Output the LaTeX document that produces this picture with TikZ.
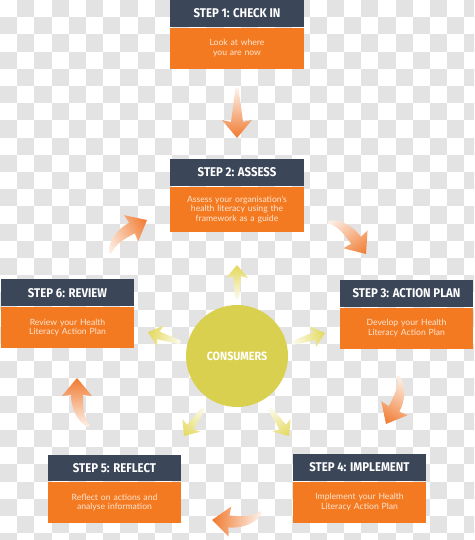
\documentclass[tikz,border=0pt]{standalone}
\usepackage{fontspec}
\setmainfont{Lato}
\newfontfamily\headfont[FakeStretch=0.9]{Fira Sans}
\usetikzlibrary{positioning}
\definecolor{slate}{HTML}{3B4759}
\definecolor{stepor}{HTML}{F47A21}
\definecolor{bodytxt}{HTML}{FDE6D3}
\definecolor{sunny}{HTML}{DAD04F}
\definecolor{ray}{HTML}{E3D85A}
\definecolor{glow}{HTML}{F07A30}
\begin{document}
\begin{tikzpicture}[x=0.02cm, y=0.02cm,
	head/.style={fill=slate, text=white, minimum width=2.68cm, minimum height=0.54cm, inner sep=0pt, font=\headfont\bfseries\fontsize{7.2}{8}\selectfont},
	body/.style={fill=stepor, text=bodytxt, minimum width=2.68cm, minimum height=0.82cm, inner sep=0pt, text width=2.5cm, align=center, font=\fontsize{4.9}{5.4}\selectfont},
	checker/.style={fill=black!11},
	swoop/.pic={\shade[left color=glow!10, right color=glow] (0,0) -- (-18,15) -- (-17,6) .. controls (-30,6) and (-44,0) .. (-49,-11) -- (-47,-13) .. controls (-40,-6) and (-28,-6) .. (-17,-6) -- (-18,-15) -- cycle;},
	drop/.pic={\shade[left color=glow!10, right color=glow] (0,0) -- (-18,15) -- (-16,6) -- (-50,1.5) -- (-50,-1.5) -- (-16,-6) -- (-18,-15) -- cycle;},
	ray/.pic={\shade[left color=ray!10, right color=ray] (0,0) -- (-13,11) -- (-11,4) -- (-34,2) -- (-34,-2) -- (-11,-4) -- (-13,-11) -- cycle;}]
	\useasboundingbox (0,0) rectangle (474,540);
	\fill[white] (0,0) rectangle (474,540);
	\begin{scope}
		\clip (0,0) rectangle (474,540);
		\foreach \j in {0,...,31} {
			\pgfmathtruncatemacro\off{mod(\j+1,2)}
			\foreach \i in {0,...,13}
				\fill[checker] ({(2*\i+\off)*17.2},{540-17.2*\j}) rectangle ++(17.2,-17.2);
		}
	\end{scope}
	% rays round the circle
	\coordinate (Y1) at (237,275);
	\coordinate (Y2) at (148,208);
	\coordinate (Y3) at (325,207);
	\coordinate (Y4) at (184,104);
	\coordinate (Y5) at (289,104);
	\pic[transform canvas={shift={(Y1)}, rotate=90}] {ray};
	\pic[transform canvas={shift={(Y2)}, rotate=162}] {ray};
	\pic[transform canvas={shift={(Y3)}, rotate=17}] {ray};
	\pic[transform canvas={shift={(Y4)}, rotate=-125}] {ray};
	\pic[transform canvas={shift={(Y5)}, rotate=-55}] {ray};
	\node[circle, fill=sunny, minimum size=2.04cm, text=white, font=\headfont\bfseries\fontsize{6.8}{7}\selectfont] (C) at (237,184) {CONSUMERS};
	% steps
	\node[head] (H1) at (237,526.5) {STEP 1: CHECK IN};
	\node[body, below=0pt of H1] (B1) {Look at where\\you are now};
	\node[head] (H2) at (237,367.5) {STEP 2: ASSESS};
	\node[body, below=0pt of H2, minimum height=0.9cm] (B2) {Assess your organisation's\\health literacy using the\\framework as a guide};
	\node[head] (H3) at (406.5,246.5) {STEP 3: ACTION PLAN};
	\node[body, below=0pt of H3] (B3) {Develop your Health\\Literacy Action Plan};
	\node[head] (H4) at (359.5,72.5) {STEP 4: IMPLEMENT};
	\node[body, below=0pt of H4] (B4) {Implement your Health\\Literacy Action Plan};
	\node[head] (H5) at (114.5,72) {STEP 5: REFLECT};
	\node[body, below=0pt of H5] (B5) {Reflect on actions and\\analyse information};
	\node[head] (H6) at (67.5,247) {STEP 6: REVIEW};
	\node[body, below=0pt of H6] (B6) {Review your Health\\Literacy Action Plan};
	% arrows between steps
	\coordinate (A1) at (237,402);
	\coordinate (A2) at (366,286);
	\coordinate (A3) at (386,116);
	\coordinate (A4) at (212,20);
	\coordinate (A5) at (77,162);
	\coordinate (A6) at (147,320);
	\pic[transform canvas={shift={(A1)}, rotate=-90}] {drop};
	\pic[transform canvas={shift={(A2)}, rotate=-54}] {swoop};
	\pic[transform canvas={shift={(A3)}, rotate=-118}] {swoop};
	\pic[transform canvas={shift={(A4)}, rotate=175}] {swoop};
	\pic[transform canvas={shift={(A5)}, rotate=90}] {swoop};
	\pic[transform canvas={shift={(A6)}, rotate=28}] {swoop};
\end{tikzpicture}
\end{document}
